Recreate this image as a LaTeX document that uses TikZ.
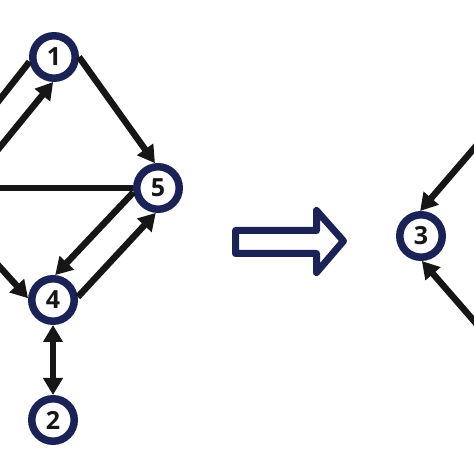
\documentclass[tikz,border=0pt]{standalone}
\usepackage{fontspec}
\setmainfont{Open Sans}
\usetikzlibrary{arrows.meta}
\definecolor{navy}{HTML}{1B2356}
\definecolor{ink}{HTML}{161616}
\begin{document}
\begin{tikzpicture}[x=1pt,y=1pt,
  vert/.style={circle,draw=navy,line width=7.5pt,fill=white,minimum size=42.5pt,inner sep=0pt,
    font=\fontsize{25}{25}\selectfont\bfseries,text=ink},
  edge/.style={draw=ink,line width=6.5pt},
  arr/.style={edge,-{Triangle[length=17pt,width=19pt]}},
  darr/.style={edge,{Triangle[length=17pt,width=19pt]}-{Triangle[length=17pt,width=19pt]}}]
\useasboundingbox (0,0) rectangle (474,474);
\clip (0,0) rectangle (474,474);
\node[vert] (n1) at (54,417) {1};
\node[vert] (n5) at (158,286) {5};
\node[vert] (n4) at (53,174) {4};
\node[vert] (n2) at (53,54) {2};
\node[vert] (n3) at (421,238) {3};
\coordinate (a1) at (-40,324);
\coordinate (b1) at (-40,278);
\coordinate (c1) at (-40,286);
\coordinate (d1) at (-40,251);
\coordinate (e1) at (514,372);
\coordinate (f1) at (514,107);
\draw[edge] (a1) -- (n1.191);
\draw[arr] (b1) -- (n1.268);
\draw[arr] (n1.0) -- (n5.97);
\draw[edge] (c1) -- (n5.180);
\draw[arr] (n5.190) -- (n4.85);
\draw[arr] (n4.7) -- (n5.265);
\draw[arr] (d1) -- (n4.176);
\draw[darr] (n4.south) -- (n2.north);
\draw[arr] (e1) -- (n3.92);
\draw[arr] (f1) -- (n3.272);
\draw[navy,fill=white,line width=7pt,line join=round]
  (235.5,243.5) -- (316.5,243.5) -- (316.5,263.5) -- (343.5,233) -- (316.5,201.5)
  -- (316.5,220.5) -- (235.5,220.5) -- cycle;
\end{tikzpicture}
\end{document}
